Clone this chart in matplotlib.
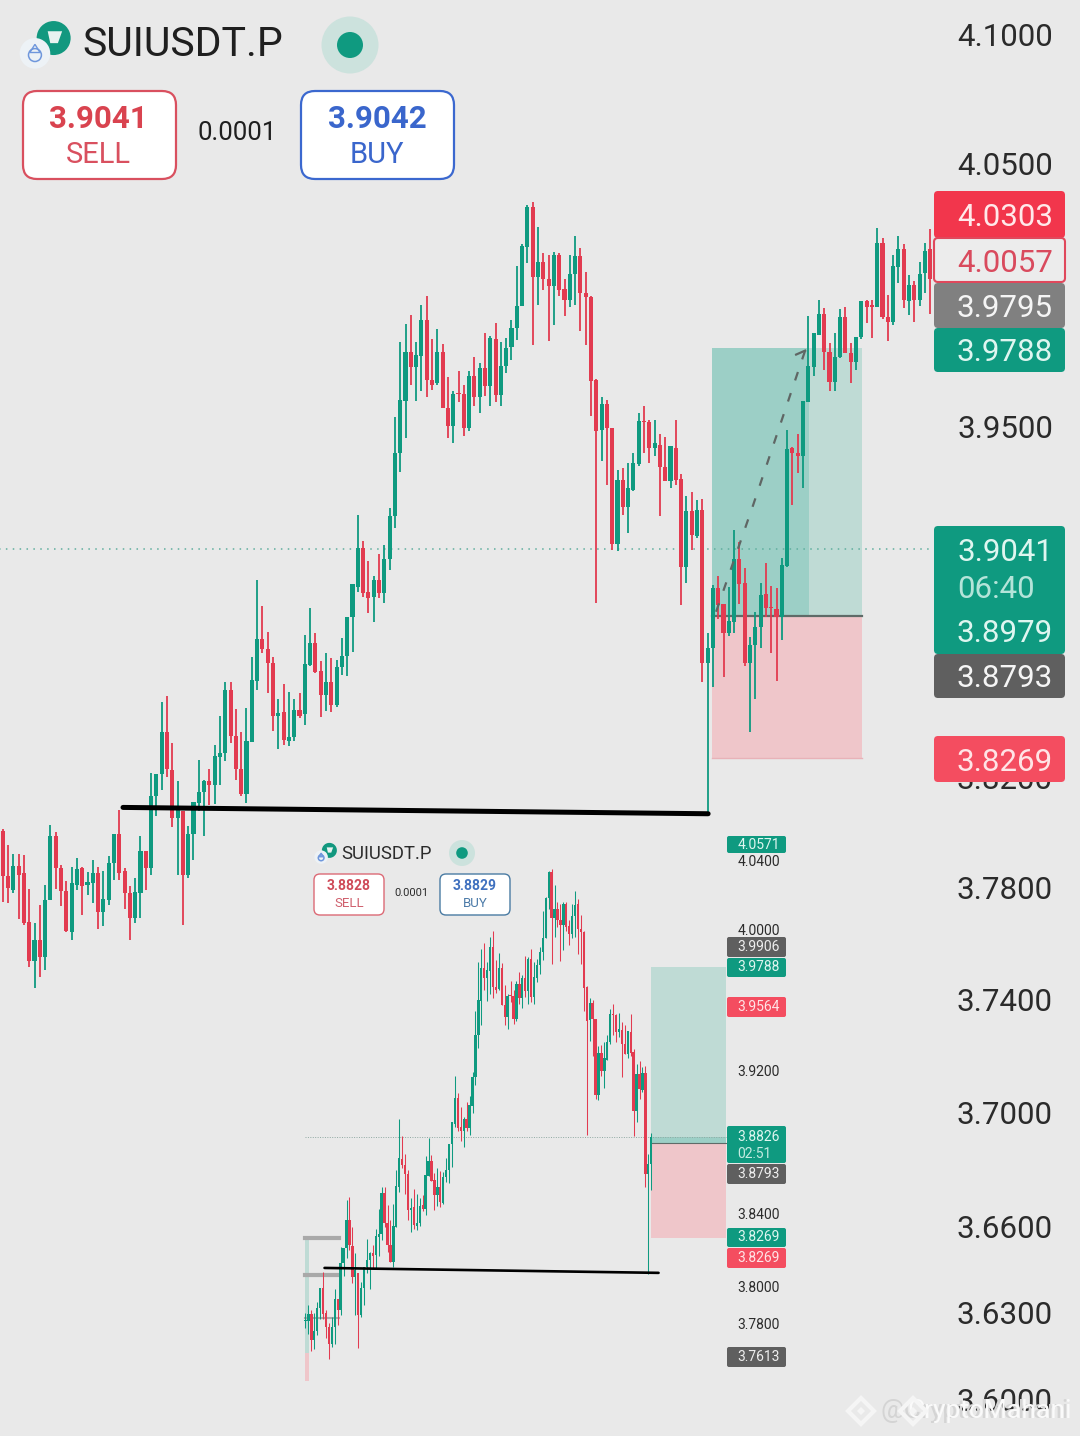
import matplotlib
matplotlib.use('Agg')
import matplotlib.pyplot as plt
from matplotlib.patches import FancyBboxPatch, Circle, Wedge, Polygon
from matplotlib.transforms import offset_copy

plt.rcParams['font.family'] = ['Roboto', 'DejaVu Sans']

GREEN = '#0f9a80'
RED = '#e23b50'
BG = '#e9e9e9'
TICK_COL = '#2b2b2b'

opens = [3.8004, 3.7841, 3.7793, 3.7877, 3.7851, 3.7675, 3.7536, 3.7613, 3.7551, 3.7757,
         3.7988, 3.7871, 3.7787, 3.7639, 3.7811, 3.7871, 3.7811, 3.7815, 3.7853, 3.7711,
         3.7757, 3.7887, 3.7992, 3.7859, 3.7781, 3.7691, 3.7781, 3.7931, 3.7871, 3.8131,
         3.8210, 3.8364, 3.8225, 3.8052, 3.8076, 3.7847, 3.7992, 3.8107, 3.8145, 3.8185,
         3.8173, 3.8274, 3.8288, 3.8518, 3.8349, 3.8230, 3.8137, 3.8327, 3.8551, 3.8705,
         3.8670, 3.8618, 3.8423, 3.8437, 3.8331, 3.8347, 3.8447, 3.8429, 3.8612, 3.8693,
         3.8587, 3.8502, 3.8547, 3.8462, 3.8603, 3.8643, 3.8788, 3.8899, 3.9044, 3.8881,
         3.8862, 3.8925, 3.8877, 3.9002, 3.9161, 3.9398, 3.9593, 3.9780, 3.9723, 3.9763,
         3.9900, 3.9672, 3.9662, 3.9780, 3.9568, 3.9501, 3.9624, 3.9622, 3.9492, 3.9690,
         3.9609, 3.9721, 3.9650, 3.9830, 3.9618, 3.9725, 3.9799, 3.9871, 3.9953, 4.0180,
         4.0335, 4.0065, 4.0121, 4.0058, 4.0030, 4.0148, 4.0020, 3.9977, 4.0077, 4.0147,
         4.0004, 3.9989, 3.9672, 3.9484, 3.9584, 3.9492, 3.9059, 3.9298, 3.9196, 3.9261,
         3.9358, 3.9518, 3.9515, 3.9417, 3.9430, 3.9346, 3.9292, 3.9417, 3.9301, 3.8974,
         3.9180, 3.9089, 3.9186, 3.8619, 3.8674, 3.8896, 3.8836, 3.8730, 3.8770, 3.9004,
         3.8914, 3.8619, 3.8685, 3.8752, 3.8873, 3.8825, 3.8818, 3.8788, 3.8977, 3.9418,
         3.9400, 3.9388, 3.9591, 3.9724, 3.9845, 3.9925, 3.9781, 3.9667, 3.9762, 3.9914,
         3.9777, 3.9743, 3.9838, 3.9974, 3.9959, 3.9951, 4.0196, 3.9914, 3.9895, 4.0104,
         4.0173, 3.9974, 4.0035, 3.9978, 4.0081, 4.0173]
closes = [3.7841, 3.7799, 3.7877, 3.7847, 3.7673, 3.7536, 3.7613, 3.7551, 3.7757, 3.7988,
          3.7871, 3.7787, 3.7643, 3.7815, 3.7867, 3.7805, 3.7819, 3.7853, 3.7711, 3.7759,
          3.7887, 3.7992, 3.7853, 3.7781, 3.7691, 3.7783, 3.7931, 3.7871, 3.8131, 3.8210,
          3.8364, 3.8228, 3.8052, 3.8089, 3.7847, 3.7992, 3.8109, 3.8145, 3.8185, 3.8170,
          3.8276, 3.8288, 3.8518, 3.8349, 3.8228, 3.8137, 3.8331, 3.8554, 3.8707, 3.8668,
          3.8618, 3.8423, 3.8435, 3.8337, 3.8347, 3.8445, 3.8425, 3.8615, 3.8693, 3.8584,
          3.8502, 3.8547, 3.8465, 3.8603, 3.8643, 3.8788, 3.8908, 3.9044, 3.8877, 3.8858,
          3.8925, 3.8877, 3.9004, 3.9161, 3.9398, 3.9597, 3.9780, 3.9723, 3.9767, 3.9900,
          3.9672, 3.9656, 3.9780, 3.9568, 3.9501, 3.9622, 3.9621, 3.9492, 3.9690, 3.9609,
          3.9721, 3.9650, 3.9833, 3.9618, 3.9728, 3.9795, 3.9871, 3.9953, 4.0182, 4.0335,
          4.0065, 4.0121, 4.0058, 4.0030, 4.0150, 4.0017, 3.9977, 4.0077, 4.0144, 4.0004,
          3.9989, 3.9669, 3.9480, 3.9584, 3.9492, 3.9059, 3.9296, 3.9196, 3.9267, 3.9361,
          3.9518, 3.9515, 3.9417, 3.9436, 3.9346, 3.9292, 3.9424, 3.9298, 3.8974, 3.9180,
          3.9093, 3.9186, 3.8619, 3.8674, 3.8896, 3.8833, 3.8730, 3.8774, 3.9004, 3.8911,
          3.8619, 3.8685, 3.8752, 3.8870, 3.8822, 3.8822, 3.8788, 3.8981, 3.9415, 3.9400,
          3.9388, 3.9595, 3.9728, 3.9853, 3.9925, 3.9781, 3.9667, 3.9762, 3.9914, 3.9777,
          3.9743, 3.9838, 3.9974, 3.9951, 3.9951, 4.0196, 3.9914, 3.9895, 4.0108, 4.0173,
          3.9978, 4.0035, 3.9978, 4.0077, 4.0165, 4.0058]
highs = [3.8010, 3.7952, 3.7923, 3.7923, 3.7919, 3.7795, 3.7673, 3.7739, 3.7811, 3.8026,
         3.8000, 3.7883, 3.7823, 3.7875, 3.7907, 3.7875, 3.7855, 3.7901, 3.7875, 3.7859,
         3.7915, 3.7992, 3.8082, 3.7871, 3.7805, 3.7835, 3.7988, 3.7931, 3.8216, 3.8210,
         3.8474, 3.8496, 3.8325, 3.8185, 3.8076, 3.8024, 3.8109, 3.8262, 3.8191, 3.8230,
         3.8319, 3.8425, 3.8549, 3.8547, 3.8449, 3.8364, 3.8453, 3.8641, 3.8926, 3.8830,
         3.8732, 3.8641, 3.8486, 3.8539, 3.8510, 3.8486, 3.8506, 3.8720, 3.8822, 3.8727,
         3.8624, 3.8656, 3.8637, 3.8630, 3.8711, 3.8788, 3.8908, 3.9167, 3.9070, 3.8996,
         3.8940, 3.9022, 3.9056, 3.9192, 3.9534, 3.9816, 3.9887, 3.9921, 3.9816, 3.9959,
         3.9994, 3.9829, 3.9867, 3.9811, 3.9685, 3.9634, 3.9709, 3.9656, 3.9709, 3.9759,
         3.9738, 3.9852, 3.9842, 3.9890, 3.9816, 3.9833, 3.9902, 4.0108, 4.0191, 4.0341,
         4.0351, 4.0256, 4.0157, 4.0150, 4.0159, 4.0157, 4.0058, 4.0150, 4.0223, 4.0176,
         4.0084, 3.9992, 3.9677, 3.9609, 3.9597, 3.9492, 3.9336, 3.9342, 3.9361, 3.9398,
         3.9549, 3.9574, 3.9521, 3.9524, 3.9471, 3.9459, 3.9424, 3.9521, 3.9321, 3.9238,
         3.9254, 3.9221, 3.9226, 3.8730, 3.8907, 3.8940, 3.8836, 3.8899, 3.9111, 3.9067,
         3.8970, 3.8715, 3.8807, 3.8914, 3.8989, 3.8903, 3.8896, 3.9007, 3.9486, 3.9422,
         3.9471, 3.9595, 3.9917, 3.9853, 3.9978, 3.9948, 3.9815, 3.9853, 3.9944, 3.9951,
         3.9815, 3.9838, 3.9974, 3.9978, 3.9978, 4.0253, 4.0215, 3.9997, 4.0150, 4.0222,
         4.0192, 4.0074, 4.0051, 4.0123, 4.0196, 4.0249]
lows = [3.7748, 3.7745, 3.7781, 3.7687, 3.7667, 3.7516, 3.7441, 3.7480, 3.7506, 3.7755,
        3.7795, 3.7733, 3.7639, 3.7610, 3.7793, 3.7703, 3.7775, 3.7743, 3.7651, 3.7663,
        3.7739, 3.7827, 3.7827, 3.7723, 3.7610, 3.7673, 3.7691, 3.7793, 3.7847, 3.8058,
        3.8155, 3.8201, 3.8020, 3.7847, 3.7665, 3.7835, 3.7901, 3.8076, 3.7986, 3.8097,
        3.8101, 3.8170, 3.8258, 3.8325, 3.8191, 3.8133, 3.8107, 3.8327, 3.8520, 3.8653,
        3.8508, 3.8368, 3.8301, 3.8319, 3.8313, 3.8331, 3.8417, 3.8392, 3.8608, 3.8581,
        3.8420, 3.8441, 3.8437, 3.8457, 3.8575, 3.8569, 3.8658, 3.8881, 3.8862, 3.8803,
        3.8770, 3.8858, 3.8840, 3.8963, 3.9118, 3.9326, 3.9455, 3.9656, 3.9593, 3.9634,
        3.9609, 3.9637, 3.9656, 3.9568, 3.9455, 3.9436, 3.9589, 3.9464, 3.9480, 3.9574,
        3.9551, 3.9614, 3.9574, 3.9589, 3.9574, 3.9702, 3.9748, 3.9826, 3.9953, 4.0119,
        3.9805, 3.9959, 4.0014, 3.9820, 3.9883, 3.9992, 3.9915, 3.9950, 3.9959, 3.9858,
        3.9805, 3.9536, 3.8840, 3.9367, 3.9279, 3.9037, 3.9031, 3.9167, 3.9101, 3.9258,
        3.9351, 3.9398, 3.9361, 3.9386, 3.9161, 3.9292, 3.9267, 3.9279, 3.8833, 3.8913,
        3.9037, 3.9080, 3.8549, 3.8071, 3.8531, 3.8781, 3.8568, 3.8719, 3.8730, 3.8836,
        3.8608, 3.8366, 3.8487, 3.8674, 3.8788, 3.8656, 3.8553, 3.8704, 3.8974, 3.9204,
        3.9325, 3.9268, 3.9591, 3.9690, 3.9845, 3.9713, 3.9633, 3.9633, 3.9758, 3.9777,
        3.9664, 3.9713, 3.9830, 3.9891, 3.9834, 3.9951, 3.9906, 3.9823, 3.9883, 4.0043,
        3.9948, 3.9921, 3.9895, 3.9955, 4.0005, 3.9925]

# position tool levels
target = 3.9795
entry = 3.8793
stop = 3.8269
last_price = 3.9041

main_ticks = [4.1, 4.05, 3.95, 3.82, 3.78, 3.74, 3.70, 3.66, 3.63, 3.60]
inset_ticks = [4.04, 4.00, 3.92, 3.84, 3.80, 3.78]

# dashed path of the trade, (bar index, price)
path_x = [134.6, 141.6, 151.4]
path_y = [3.8807, 3.9204, 3.9785]
hook_x = [149.7, 151.4]
hook_y = [3.9770, 3.9785]

support_x = [22.7, 133.1]
support_y = [3.8090, 3.8067]

# inset chart is the same series, cut earlier, with a live last candle
inset_first = 16
inset_last_bar = 134
inset_last = (3.8674, 3.8850, 3.8530, 3.8826)
inset_price = 3.8826
inset_target = 3.9788
inset_support_x = [22.5, 136.5]
inset_support_y = [3.8103, 3.8076]
inset_old_levels = [3.8269, 3.8065, 3.7831]

fig = plt.figure(figsize=(10.8, 14.36), dpi=100, facecolor=BG)


def px_to_idx(px, x0, step):
    return (px - x0) / step


def candles(ax, xs, o, h, l, c, body_w, wick_lw, z=3):
    for x, op, hi, lo, cl in zip(xs, o, h, l, c):
        col = GREEN if cl >= op else RED
        ax.vlines(x, lo, hi, color=col, linewidth=wick_lw, zorder=z)
        ax.bar(x, abs(cl - op), bottom=min(op, cl), width=body_w, color=col, linewidth=0, zorder=z + 0.1)


# main chart
ax = fig.add_axes([0, 0, 1, 1], facecolor=BG)
ax.set_yscale('log')
ax.set_xlim(px_to_idx(0, 2.7, 5.3), px_to_idx(1080, 2.7, 5.3))
ax.set_ylim(3.5875, 4.1137)
ax.axis('off')

ax.fill_between([133.8, 152.1], entry, target, color='#9ccfc6', linewidth=0, zorder=1)
ax.fill_between([152.1, 162.1], entry, target, color='#bfdbd5', linewidth=0, zorder=1)
ax.fill_between([133.8, 162.1], stop, entry, color='#efc6ca', linewidth=0, zorder=1)
ax.plot([133.8, 162.1], [entry, entry], color='#5f6b68', linewidth=1.6, zorder=2)
ax.plot([133.8, 162.1], [stop, stop], color='#e8b2b8', linewidth=1.0, zorder=2)
ax.plot([-1, 175.6], [last_price, last_price], color='#5fae9e', linewidth=1.1, linestyle=(0, (1, 3.5)), zorder=2)

candles(ax, range(len(opens)), opens, highs, lows, closes, 0.78, 1.3)

ax.plot(path_x, path_y, color='#5f6664', linewidth=1.6, linestyle=(0, (4, 6)), zorder=5)
ax.plot(hook_x, hook_y, color='#5f6664', linewidth=1.6, zorder=5)
ax.plot(support_x, support_y, color='black', linewidth=3.6, solid_capstyle='round', zorder=6)

main_tick_tr = offset_copy(ax.get_yaxis_transform(), fig=fig, y=-3, units='dots')
for t in main_ticks:
    ax.text(0.975, t, '%.4f' % t, transform=main_tick_tr, ha='right', va='center',
            fontsize=22.5, color=TICK_COL, zorder=7)

# inset chart, same price series on a smaller scale
ix = fig.add_axes([0, 0, 1, 1], facecolor='none')
ix.set_yscale('log')
ix.set_xlim(133 + (0 - 648.3) / 2.93, 133 + (1080 - 648.3) / 2.93)
ix.set_ylim(3.7194, 4.5716)
ix.axis('off')

ix.fill_between([133.9, 159.5], entry, inset_target, color='#bfdbd5', linewidth=0, zorder=1)
ix.fill_between([133.9, 159.5], entry, inset_price, color='#9ccfc6', linewidth=0, zorder=1.1)
ix.fill_between([133.9, 159.5], stop, entry, color='#efc6ca', linewidth=0, zorder=1)
ix.plot([133.9, 159.5], [entry, entry], color='#5f6b68', linewidth=0.8, zorder=2)
ix.fill_between([16, 17.3], 3.7638, 3.8269, color='#bfdbd5', linewidth=0, zorder=1)
ix.fill_between([16, 17.3], 3.7490, 3.7638, color='#efc6ca', linewidth=0, zorder=1)
for lev, lw in zip(inset_old_levels, [3, 3, 1.5]):
    ix.plot([16, 27.5], [lev, lev], color='#a9a9a9', linewidth=lw, zorder=2)
ix.plot([16, 159.5], [inset_price, inset_price], color='#8fa8a2', linewidth=0.7, linestyle=(0, (1, 1.5)), zorder=2)

first = inset_first
last = inset_last_bar
candles(ix, range(first, last), opens[first:last], highs[first:last], lows[first:last], closes[first:last], 0.8, 0.75)
candles(ix, [last], [inset_last[0]], [inset_last[1]], [inset_last[2]], [inset_last[3]], 0.8, 0.75)
ix.plot(inset_support_x, inset_support_y, color='black', linewidth=1.9, solid_capstyle='round', zorder=6)

inset_tick_tr = offset_copy(ix.get_yaxis_transform(), fig=fig, y=-1.5, units='dots')
for t in inset_ticks:
    ix.text(0.7025, t, '%.4f' % t, transform=inset_tick_tr, ha='center', va='center',
            fontsize=10, color=TICK_COL, zorder=7)

# overlay in pixels for the app's labels and buttons
ui = fig.add_axes([0, 0, 1, 1], facecolor='none')
ui.set_xlim(0, 1080)
ui.set_ylim(1436, 0)
ui.axis('off')


def tag(x0, x1, y0, y1, fc, ec='none', lw=0, rad=4):
    ui.add_patch(FancyBboxPatch((x0 + rad, y0 + rad), x1 - x0 - 2 * rad, y1 - y0 - 2 * rad,
                                boxstyle='round,pad=%g,rounding_size=%g' % (rad, rad),
                                fc=fc, ec=ec, lw=lw, zorder=10))


def label(x, y, s, col, size, ha='center', weight='normal'):
    # roboto sits a little high with va=center
    ui.text(x, y + size * 0.13, s, color=col, fontsize=size, ha=ha, va='center', fontweight=weight, zorder=11)


def logo(cx, cy, r):
    ui.add_patch(Wedge((cx + 0.45 * r, cy - 0.35 * r), r, 0, 360, fc='#12987f', ec='none', zorder=10))
    ui.add_patch(Polygon([(cx + 0.1 * r, cy - 0.75 * r), (cx + 0.95 * r, cy - 0.75 * r),
                          (cx + 0.7 * r, cy - 0.05 * r), (cx + 0.25 * r, cy - 0.05 * r)],
                         fc='#e9f3f0', ec='none', zorder=10.1))
    ui.add_patch(Circle((cx - 0.65 * r, cy + 0.55 * r), 0.9 * r, fc='#edf2f6', ec='none', zorder=10.2))
    ui.add_patch(Circle((cx - 0.65 * r, cy + 0.65 * r), 0.38 * r, fc='none', ec='#6f97dc', lw=1.1, zorder=10.3))
    ui.add_patch(Polygon([(cx - 0.95 * r, cy + 0.5 * r), (cx - 0.65 * r, cy + 0.02 * r), (cx - 0.35 * r, cy + 0.5 * r)],
                         fc='#edf2f6', ec='#6f97dc', lw=1.0, zorder=10.25))


# main price tags
tag(934, 1065, 191, 238, '#f2364c')
tag(934, 1065, 238, 282, '#ececec', '#e0485c', 1.5)
tag(934, 1065, 283, 328, '#808080')
tag(934, 1065, 328, 372, '#0f9a80')
tag(934, 1065, 526, 654, '#0f9a80')
tag(934, 1065, 654, 698, '#5f5f5f')
tag(934, 1065, 736, 782, '#f44d60')

for y, s, col in [(215, '4.0303', '#ffe9ea'), (261, '4.0057', '#d94a5d'), (306, '3.9795', '#f5f5f5'),
                  (350, '3.9788', '#dff6f0'), (550, '3.9041', '#dff6f0'), (631, '3.8979', '#dff6f0'),
                  (676, '3.8793', '#f5f5f5'), (760, '3.8269', '#ffe4e6')]:
    label(1053, y, s, col, 22.5, 'right')
label(957, 587, '06:40', '#b4e4d9', 22.5, 'left')

# header of the main chart
logo(46, 44, 17)
label(82, 41, 'SUIUSDT.P', '#1f1f1f', 29.5, 'left')
ui.add_patch(Circle((350, 45), 28.5, fc='#cce2dd', ec='none', zorder=10))
ui.add_patch(Circle((350, 45), 13, fc='#0f9a80', ec='none', zorder=10.1))
tag(23, 176, 91, 179, 'white', '#d9505f', 1.6, 14)
label(98, 116, '3.9041', '#d9434f', 22.5, weight='bold')
label(98, 152, 'SELL', '#d9505f', 21)
label(237, 131, '0.0001', '#1f1f1f', 18.5)
tag(301, 454, 91, 179, 'white', '#3b68cf', 1.6, 14)
label(377, 116, '3.9042', '#3a66cc', 22.5, weight='bold')
label(377, 152, 'BUY', '#3a66cc', 21)

# inset price tags
tag(727, 786, 836, 853, '#0f9a80', rad=2)
tag(727, 786, 937, 957, '#5f5f5f', rad=2)
tag(727, 786, 958, 977, '#0f9a80', rad=2)
tag(727, 786, 997, 1017, '#f44d60', rad=2)
tag(727, 786, 1126, 1163, '#0f9a80', rad=2)
tag(727, 786, 1164, 1184, '#5f5f5f', rad=2)
tag(727, 786, 1228, 1247, '#0f9a80', rad=2)
tag(727, 786, 1248, 1268, '#f44d60', rad=2)
tag(727, 786, 1347, 1367, '#5f5f5f', rad=2)
for y, s, col in [(844, '4.0571', '#dff6f0'), (946, '3.9906', '#eeeeee'), (966, '3.9788', '#dff6f0'),
                  (1006, '3.9564', '#ffe4e6'), (1136, '3.8826', '#dff6f0'), (1173, '3.8793', '#eeeeee'),
                  (1236, '3.8269', '#dff6f0'), (1257, '3.8269', '#ffe4e6'), (1356, '3.7613', '#eeeeee')]:
    label(758.5, y, s, col, 10)
label(737, 1153, '02:51', '#c4ebe1', 10, 'left')

# inset header
logo(326, 853, 7.5)
label(341, 852, 'SUIUSDT.P', '#2b2b2b', 13.3, 'left')
ui.add_patch(Circle((462, 853), 13, fc='#cce2dd', ec='none', zorder=10))
ui.add_patch(Circle((462, 853), 5.8, fc='#0f9a80', ec='none', zorder=10.1))
tag(314, 384, 874, 915, 'white', '#dc6a76', 1, 6)
label(349, 885, '3.8828', '#cf4a58', 10, weight='bold')
label(349, 902, 'SELL', '#cf5f6c', 9.5)
label(411, 892, '0.0001', '#2b2b2b', 8)
tag(440, 510, 874, 915, 'white', '#4a7ba3', 1, 6)
label(475, 885, '3.8829', '#3f70bf', 10, weight='bold')
label(475, 902, 'BUY', '#4b7aa8', 9.5)

# watermark
for cx in (861, 913):
    ui.add_patch(Polygon([(cx, 1398), (cx + 13, 1411), (cx, 1424), (cx - 13, 1411)],
                         fc='none', ec='#f5f5f5', lw=3, zorder=12))
    ui.add_patch(Polygon([(cx, 1407), (cx + 4, 1411), (cx, 1415), (cx - 4, 1411)],
                         fc='#f5f5f5', ec='none', zorder=12))
label(881, 1409, '@CryptoMahani', '#d4d4d4', 19, 'left')
label(1072, 1409, 'CryptoMahani', '#fafafa', 19, 'right')

fig.savefig('out.png', dpi=100, facecolor=BG)
